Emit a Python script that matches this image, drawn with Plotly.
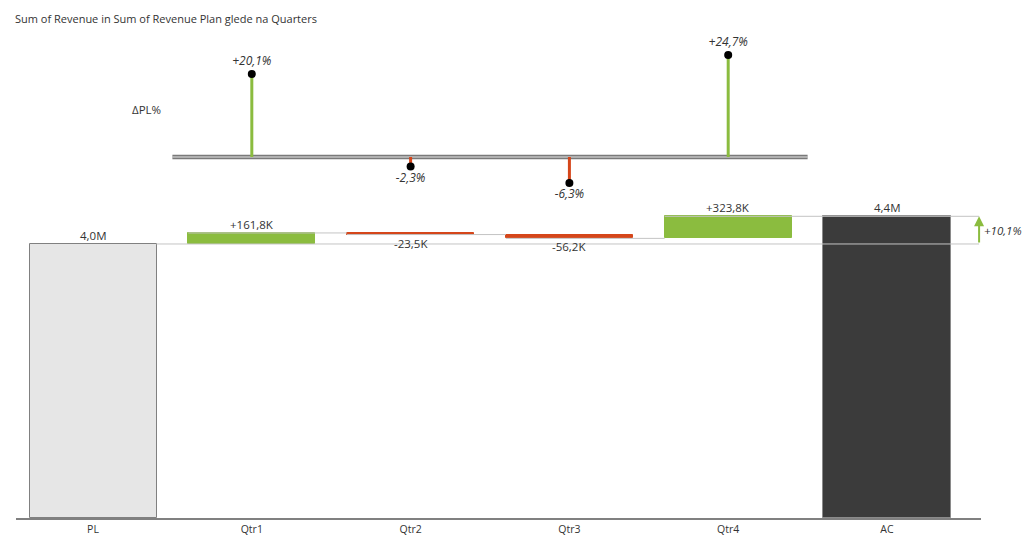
import plotly.graph_objects as go
from plotly.subplots import make_subplots

# data (values in thousands)
categories = ["PL", "Qtr1", "Qtr2", "Qtr3", "Qtr4", "AC"]
quarters = ["Qtr1", "Qtr2", "Qtr3", "Qtr4"]
plan_total = 4019.0
quarter_deltas = [161.8, -23.5, -56.2, 323.8]
delta_pl_pct = [20.1, -2.3, -6.3, 24.7]
total_pct = 10.1

GREEN = "#8BBC3F"
RED = "#D5461A"
FONT = "Open Sans"
TXT = "#333333"


def fmt_k(v):
    return f"{v:+.1f}K".replace(".", ",")


def fmt_m(v):
    return f"{v / 1000:.1f}M".replace(".", ",")


def fmt_pct(v):
    return f"{v:+.1f}%".replace(".", ",")


actual_total = plan_total + sum(quarter_deltas)
arrow_x = 5.58

fig = make_subplots(rows=2, cols=1, shared_xaxes=True, vertical_spacing=0)

# --- top: delta PL% lollipops ---
q_idx = [categories.index(q) for q in quarters]
fig.add_trace(go.Scatter(x=[0.5, 4.5], y=[0, 0], mode="lines",
                         line=dict(color="#7A7A7A", width=4.5),
                         hoverinfo="skip", showlegend=False), row=1, col=1)
fig.add_trace(go.Scatter(x=[0.5, 4.5], y=[0, 0], mode="lines",
                         line=dict(color="#E8E8E8", width=1.2),
                         hoverinfo="skip", showlegend=False), row=1, col=1)
for i, v in zip(q_idx, delta_pl_pct):
    fig.add_trace(go.Scatter(x=[i, i], y=[0, v], mode="lines",
                             line=dict(color=GREEN if v >= 0 else RED, width=3),
                             hoverinfo="skip", showlegend=False), row=1, col=1)
fig.add_trace(go.Scatter(
    x=q_idx, y=delta_pl_pct, mode="markers+text",
    marker=dict(color="black", size=8),
    text=[fmt_pct(v) for v in delta_pl_pct],
    textposition=["top center" if v >= 0 else "bottom center" for v in delta_pl_pct],
    textfont=dict(family=FONT, size=12, color=TXT, style="italic"),
    cliponaxis=False, showlegend=False), row=1, col=1)
fig.add_annotation(x=0.44, y=11.4, xref="x", yref="y", text="ΔPL%", showarrow=False,
                   xanchor="right", font=dict(family=FONT, size=11.5, color=TXT))

# --- bottom: waterfall ---
bases, heights, colors, lines = [0], [plan_total], ["#E6E6E6"], ["#808080"]
cum = plan_total
ends = []
for d in quarter_deltas:
    bases.append(cum)
    heights.append(d)
    colors.append(GREEN if d >= 0 else RED)
    lines.append(GREEN if d >= 0 else RED)
    cum += d
    ends.append(cum)
bases.append(0)
heights.append(actual_total)
colors.append("#3B3B3B")
lines.append("#8A8A8A")

xs = list(range(len(categories)))
fig.add_trace(go.Bar(x=xs, y=heights, base=bases, width=0.8,
                     marker=dict(color=colors, line=dict(color=lines, width=1)),
                     showlegend=False), row=2, col=1)

# connectors
cx, cy = [0.4, arrow_x, None], [plan_total, plan_total, None]
for k, e in enumerate(ends):
    i = k + 1
    x_end = arrow_x if i == 4 else i + 0.6
    cx += [i - 0.4, x_end, None]
    cy += [e, e, None]
fig.add_trace(go.Scatter(x=cx, y=cy, mode="lines", line=dict(color="#C4C4C4", width=1),
                         hoverinfo="skip", showlegend=False), row=2, col=1)

# labels
labels = [(0, plan_total, fmt_m(plan_total), True)]
for k, d in enumerate(quarter_deltas):
    labels.append((k + 1, bases[k + 1] + d, fmt_k(d), d >= 0))
labels.append((5, actual_total, fmt_m(actual_total), True))
for x, y, t, up in labels:
    fig.add_annotation(x=x, y=y, xref="x2", yref="y2", text=t, showarrow=False,
                       yanchor="bottom" if up else "top", yshift=-1 if up else 1,
                       font=dict(family=FONT, size=11.5, color=TXT))

# total variance arrow
fig.add_annotation(x=arrow_x, y=actual_total, ax=arrow_x, ay=plan_total,
                   xref="x2", yref="y2", axref="x2", ayref="y2", text="",
                   showarrow=True, arrowhead=2, arrowsize=1, arrowwidth=2, arrowcolor=GREEN)
fig.add_annotation(x=arrow_x, y=(plan_total + actual_total) / 2, xref="x2", yref="y2",
                   text=fmt_pct(total_pct), showarrow=False, xanchor="left", xshift=3,
                   font=dict(family=FONT, size=11.5, color=TXT, style="italic"))

# page body has an 8px margin, so the figure is 8px smaller and offset
fig.update_layout(
    width=1022, height=538,
    margin=dict(l=8, r=49, t=32, b=28),
    plot_bgcolor="white", paper_bgcolor="white",
    bargap=0,
    title=dict(text="Sum of Revenue in Sum of Revenue Plan glede na Quarters",
               x=7 / 1022, xanchor="left", y=1 - 11 / 538, yanchor="middle",
               font=dict(family=FONT, size=11, color=TXT)),
    font=dict(family=FONT, color=TXT),
)
split = 318 / 478
fig.update_yaxes(domain=[split, 1], range=[-10.41, 28.33], visible=False, row=1, col=1)
fig.update_yaxes(domain=[0, split], range=[0, 4664], visible=False, row=2, col=1)
fig.update_xaxes(range=[-0.485, 5.592], showgrid=False, zeroline=False)
fig.update_xaxes(visible=False, row=1, col=1)
fig.update_xaxes(tickvals=xs, ticktext=categories, showline=True, linecolor="#808080",
                 linewidth=2, ticks="", tickfont=dict(family=FONT, size=10.5, color=TXT),
                 row=2, col=1)

fig.write_html("out.html")
